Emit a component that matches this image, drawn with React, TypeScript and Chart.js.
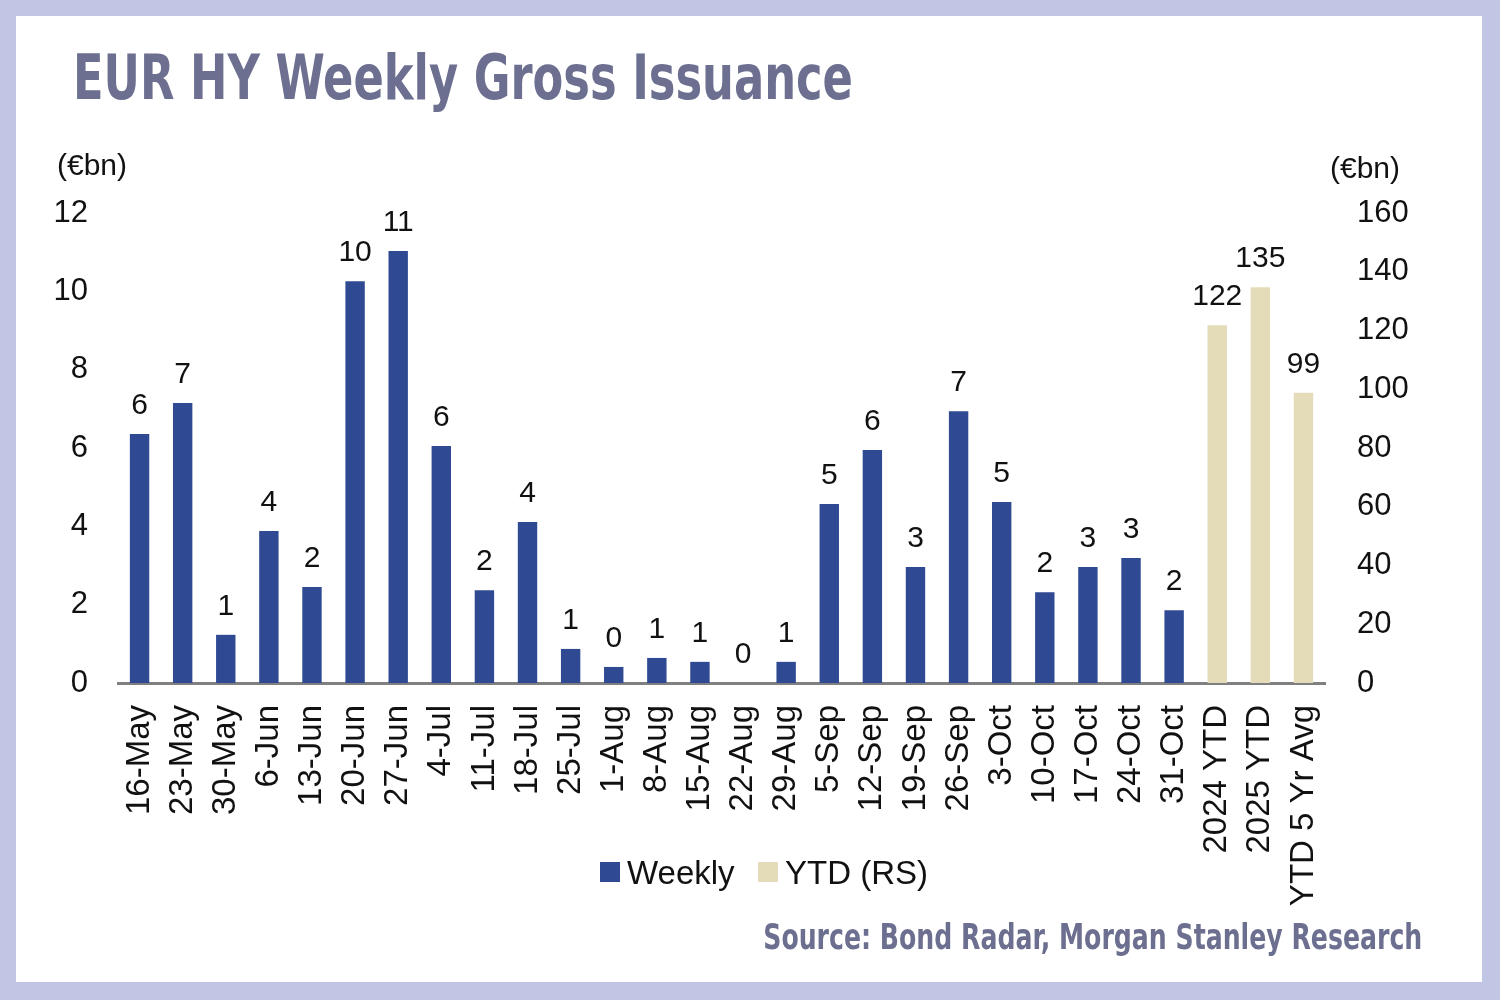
import React, { useEffect, useLayoutEffect, useRef } from "react";
import { Chart, registerables } from "chart.js";

Chart.register(...registerables);

const categories = [
  "16-May", "23-May", "30-May", "6-Jun", "13-Jun", "20-Jun", "27-Jun", "4-Jul",
  "11-Jul", "18-Jul", "25-Jul", "1-Aug", "8-Aug", "15-Aug", "22-Aug", "29-Aug",
  "5-Sep", "12-Sep", "19-Sep", "26-Sep", "3-Oct", "10-Oct", "17-Oct", "24-Oct",
  "31-Oct", "2024 YTD", "2025 YTD", "YTD 5 Yr Avg",
];
const weeklyValues = [
  6.36, 7.15, 1.23, 3.88, 2.45, 10.26, 11.03, 6.05, 2.37, 4.11, 0.87, 0.41, 0.64,
  0.54, 0, 0.54, 4.57, 5.95, 2.96, 6.94, 4.62, 2.32, 2.96, 3.19, 1.86,
];
const ytdValues = [121.8, 134.7, 98.8];
const leftTicks = [0, 2, 4, 6, 8, 10, 12];
const rightTicks = [0, 20, 40, 60, 80, 100, 120, 140, 160];

const BLUE = "#2f4a93";
const BEIGE = "#e4dcb8";
const TITLE_COLOR = "#6c6f8f";
const FONT = '"Liberation Sans", Arial, Helvetica, sans-serif';
const COND = '"Liberation Sans Narrow", "DejaVu Sans Condensed", "Liberation Sans", sans-serif';

const barLabelPlugin = {
  id: "barLabels",
  afterDatasetsDraw(chart: any) {
    const ctx = chart.ctx;
    ctx.save();
    ctx.font = `30px ${FONT}`;
    ctx.fillStyle = "#111";
    ctx.textAlign = "center";
    ctx.textBaseline = "alphabetic";
    chart.data.datasets.forEach((ds: any, i: number) => {
      const meta = chart.getDatasetMeta(i);
      meta.data.forEach((el: any, j: number) => {
        const v = ds.data[j];
        if (v === null || v === undefined) return;
        ctx.fillText(String(Math.round(v)), el.x, el.y - 20);
      });
    });
    ctx.restore();
  },
};

function FitText(props: { text: string; width: number; style: React.CSSProperties; origin: string }) {
  const ref = useRef<HTMLSpanElement | null>(null);
  useLayoutEffect(() => {
    const el = ref.current;
    if (!el) return;
    el.style.transform = "none";
    const w = el.getBoundingClientRect().width;
    if (w > 0) el.style.transform = `scaleX(${props.width / w})`;
  }, [props.text, props.width]);
  return (
    <span
      ref={ref}
      style={{ ...props.style, display: "inline-block", whiteSpace: "nowrap", transformOrigin: props.origin }}
    >
      {props.text}
    </span>
  );
}

export default function App() {
  const canvasRef = useRef<HTMLCanvasElement | null>(null);

  useEffect(() => {
    if (!canvasRef.current) return;
    const n = categories.length;
    const weeklyData = categories.map((_, i) => (i < weeklyValues.length ? weeklyValues[i] : null));
    const ytdData = categories.map((_, i) =>
      i >= n - ytdValues.length ? ytdValues[i - (n - ytdValues.length)] : null
    );
    const chart = new Chart(canvasRef.current, {
      type: "bar",
      data: {
        labels: categories,
        datasets: [
          {
            label: "Weekly",
            data: weeklyData,
            backgroundColor: BLUE,
            yAxisID: "y",
            grouped: false,
            barPercentage: 0.45,
            categoryPercentage: 1,
          } as any,
          {
            label: "YTD (RS)",
            data: ytdData,
            backgroundColor: BEIGE,
            yAxisID: "y1",
            grouped: false,
            barPercentage: 0.45,
            categoryPercentage: 1,
          } as any,
        ],
      },
      options: {
        responsive: false,
        animation: false,
        devicePixelRatio: 1,
        layout: { padding: { top: 213, left: 0, right: 0, bottom: 0 } },
        plugins: {
          legend: { display: false },
          tooltip: { enabled: false },
        },
        scales: {
          x: {
            grid: { display: false, drawTicks: false },
            border: { display: true, color: "#808080", width: 3 },
            ticks: {
              autoSkip: false,
              minRotation: 90,
              maxRotation: 90,
              padding: 22,
              color: "#111",
              font: { family: FONT, size: 33 },
            },
            afterFit: (s: any) => {
              s.height = 317;
            },
          },
          y: {
            position: "left",
            min: leftTicks[0],
            max: leftTicks[leftTicks.length - 1],
            grid: { display: false, drawTicks: false },
            border: { display: false },
            ticks: {
              stepSize: leftTicks[1] - leftTicks[0],
              padding: 30,
              color: "#111",
              font: { family: FONT, size: 31 },
            },
            afterFit: (s: any) => {
              s.width = 118;
            },
          },
          y1: {
            position: "right",
            min: rightTicks[0],
            max: rightTicks[rightTicks.length - 1],
            grid: { display: false, drawTicks: false },
            border: { display: false },
            ticks: {
              stepSize: rightTicks[1] - rightTicks[0],
              padding: 32,
              color: "#111",
              font: { family: FONT, size: 31 },
            },
            afterFit: (s: any) => {
              s.width = 175;
            },
          },
        },
      },
      plugins: [barLabelPlugin],
    });
    return () => chart.destroy();
  }, []);

  return (
    <div
      style={{
        position: "fixed",
        left: 0,
        top: 0,
        width: 1500,
        height: 1000,
        background: "#c0c6e3",
        overflow: "hidden",
      }}
    >
      <div
        style={{
          position: "absolute",
          left: 16,
          top: 16,
          width: 1466,
          height: 966,
          background: "#ffffff",
        }}
      />
      <canvas
        ref={canvasRef}
        width={1500}
        height={1000}
        style={{ position: "absolute", left: 0, top: 0, width: 1500, height: 1000 }}
      />
      <div style={{ position: "absolute", left: 73, top: 47, lineHeight: "62px" }}>
        <FitText
          text="EUR HY Weekly Gross Issuance"
          width={780}
          origin="left center"
          style={{ fontFamily: COND, fontWeight: 700, fontSize: 62, color: TITLE_COLOR, lineHeight: "62px" }}
        />
      </div>
      <div style={{ position: "absolute", left: 57, top: 150, font: `30px ${FONT}`, lineHeight: "30px", color: "#111" }}>
        (€bn)
      </div>
      <div style={{ position: "absolute", left: 1330, top: 153, font: `30px ${FONT}`, lineHeight: "30px", color: "#111" }}>
        (€bn)
      </div>
      <div style={{ position: "absolute", left: 600, top: 862, width: 20, height: 20, background: BLUE }} />
      <div style={{ position: "absolute", left: 627, top: 856, font: `33px ${FONT}`, lineHeight: "33px", color: "#111" }}>
        Weekly
      </div>
      <div style={{ position: "absolute", left: 758, top: 862, width: 20, height: 20, background: BEIGE }} />
      <div style={{ position: "absolute", left: 785, top: 856, font: `33px ${FONT}`, lineHeight: "33px", color: "#111" }}>
        YTD (RS)
      </div>
      <div style={{ position: "absolute", right: 78, top: 920, lineHeight: "35px", textAlign: "right" }}>
        <FitText
          text="Source: Bond Radar, Morgan Stanley Research"
          width={659}
          origin="right center"
          style={{ fontFamily: COND, fontWeight: 700, fontSize: 35, color: TITLE_COLOR, lineHeight: "35px" }}
        />
      </div>
    </div>
  );
}
